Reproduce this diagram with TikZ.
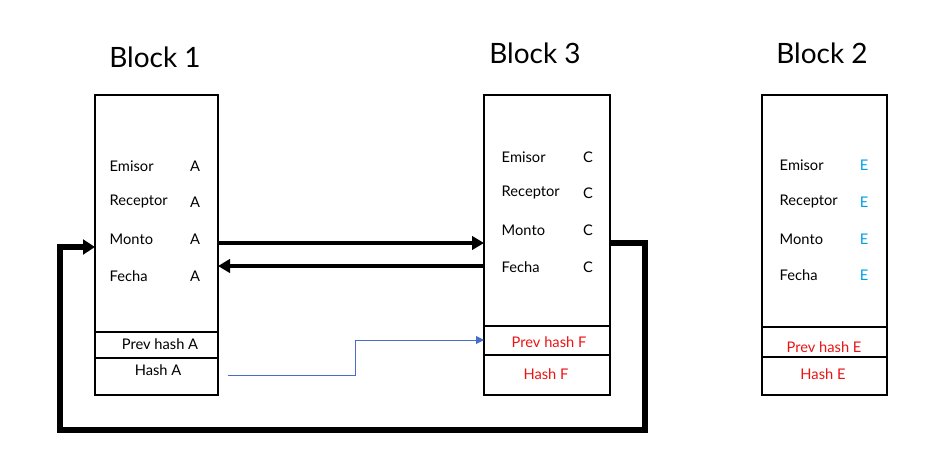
\documentclass[tikz,border=0pt]{standalone}
\usepackage{fontspec}
\setmainfont{Lato}
\usetikzlibrary{arrows.meta}
\definecolor{hred}{RGB}{235,20,20}
\definecolor{eblue}{RGB}{0,160,230}
\definecolor{lblue}{RGB}{70,110,200}
\begin{document}
\begin{tikzpicture}[x=0.75pt,y=-0.75pt,
  blk/.style={draw,line width=1.3pt},
  sep/.style={line width=1.1pt},
  title/.style={font=\fontsize{21}{24}\selectfont},
  fld/.style={anchor=west,font=\fontsize{11}{13}\selectfont},
  val/.style={font=\fontsize{11}{13}\selectfont},
  hsh/.style={font=\fontsize{11}{13}\selectfont},
  thick arrow/.style={line width=3pt,-{Triangle[length=9pt,width=10pt]}}]
\useasboundingbox (0,0) rectangle (947,450);
% Block 1
\node[title] (t1) at (155,57) {Block 1};
\node[blk,minimum width=92.25pt,minimum height=225pt] (b1) at (156.5,245) {};
\draw[sep] (95,332) -- (218,332);
\draw[sep] (95,358) -- (218,358);
\node[fld] (e1) at (105,166) {Emisor};
\node[fld] (r1) at (105,202) {Receptor};
\node[fld] (m1) at (105,239) {Monto};
\node[fld] (f1) at (105,276) {Fecha};
\node[val] (ve1) at (195,166) {A};
\node[val] (vr1) at (195,202) {A};
\node[val] (vm1) at (195,239) {A};
\node[val] (vf1) at (195,276) {A};
\node[hsh] (p1) at (160,344) {Prev hash A};
\node[hsh] (h1) at (158,370) {Hash A};
% Block 3
\node[title] (t3) at (535,53) {Block 3};
\node[blk,minimum width=94.5pt,minimum height=225pt] (b3) at (547,245) {};
\draw[sep] (484,326) -- (610,326);
\draw[sep] (484,355) -- (610,355);
\node[fld] (e3) at (497,157) {Emisor};
\node[fld] (r3) at (497,193) {Receptor};
\node[fld] (m3) at (497,230) {Monto};
\node[fld] (f3) at (497,267) {Fecha};
\node[val] (ve3) at (588,157) {C};
\node[val] (vr3) at (588,193) {C};
\node[val] (vm3) at (588,230) {C};
\node[val] (vf3) at (588,267) {C};
\node[hsh,text=hred] (p3) at (549,342) {Prev hash F};
\node[hsh,text=hred] (h3) at (546,374) {Hash F};
% Block 2
\node[title] (t2) at (822,53) {Block 2};
\node[blk,minimum width=93.75pt,minimum height=225pt] (b2) at (824.5,245) {};
\draw[sep] (762,327) -- (887,327);
\draw[sep] (762,357) -- (887,357);
\node[fld] (e2) at (775,165) {Emisor};
\node[fld] (r2) at (775,202) {Receptor};
\node[fld] (m2) at (775,239) {Monto};
\node[fld] (f2) at (775,275) {Fecha};
\node[val,text=eblue] (ve2) at (864,165) {E};
\node[val,text=eblue] (vr2) at (864,202) {E};
\node[val,text=eblue] (vm2) at (864,239) {E};
\node[val,text=eblue] (vf2) at (864,275) {E};
\node[hsh,text=hred] (p2) at (824,347) {Prev hash E};
\node[hsh,text=hred] (h2) at (823,374) {Hash E};
% connectors
\coordinate (a1) at (218,243); \coordinate (a3) at (484,243);
\coordinate (c3) at (484,266); \coordinate (c1) at (218,266);
\draw[thick arrow] (a1) -- (a3);
\draw[thick arrow] (c3) -- (c1);
\coordinate (l0) at (610,243); \coordinate (l1) at (95,247);
\draw[line width=4pt,-{Triangle[length=9pt,width=11pt]}] (l0) -- (645,243) -- (645,430) -- (60,430) -- (60,247) -- (l1);
\coordinate (hs) at (228,375); \coordinate (pe) at (484,340);
\draw[lblue,line width=0.7pt,-{Triangle[length=6pt,width=6pt]}] (hs) -- (355,375) -- (355,340) -- (pe);
\end{tikzpicture}
\end{document}
